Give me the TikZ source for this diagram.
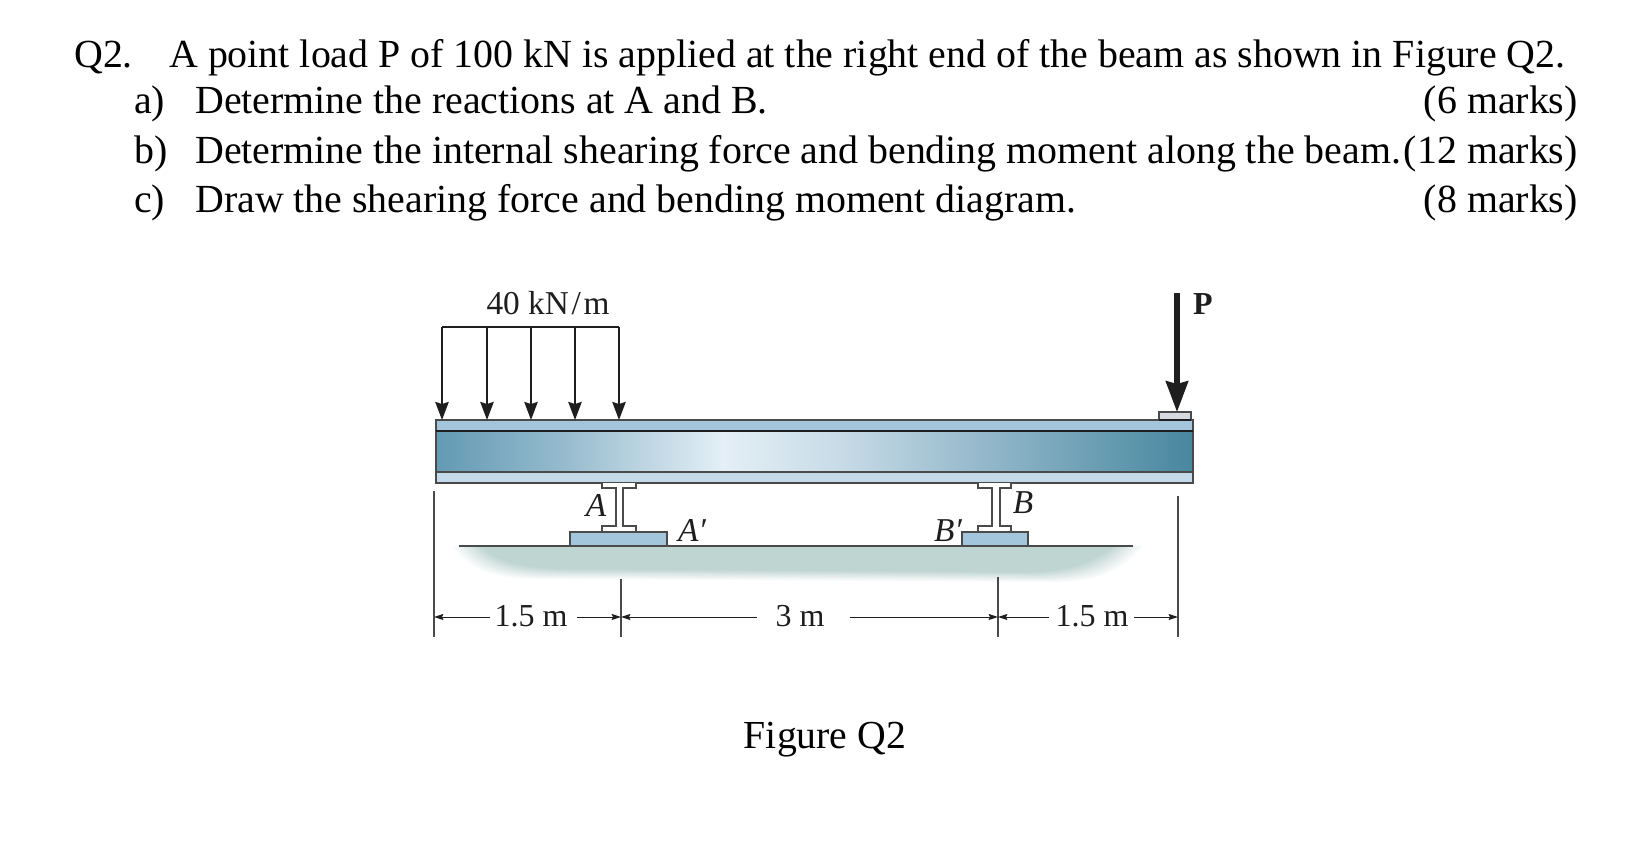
\documentclass[tikz,border=0pt]{standalone}
\usepackage{fontspec}
\setmainfont{Liberation Serif}
\usetikzlibrary{arrows.meta}
\definecolor{ink}{HTML}{1E1E1E}
\definecolor{edge}{HTML}{4A4A4A}
\definecolor{topplate}{HTML}{A3C6DC}
\definecolor{botplate}{HTML}{C4DAE9}
\definecolor{groundc}{HTML}{BFD5D2}
\definecolor{coreA}{HTML}{639AB4}
\definecolor{coreB}{HTML}{93B9CC}
\definecolor{coreC}{HTML}{E4EFF6}
\definecolor{coreD}{HTML}{C6DAE6}
\definecolor{coreE}{HTML}{8FB5C8}
\definecolor{coreF}{HTML}{47879F}
\pgfdeclarehorizontalshading{beamcore}{100bp}{
 color(0bp)=(coreA);
 color(25bp)=(coreA);
 color(33bp)=(coreB);
 color(44bp)=(coreC);
 color(52bp)=(coreD);
 color(62bp)=(coreE);
 color(75bp)=(coreF);
 color(100bp)=(coreF)}
\tikzset{
  x=0.75pt,y=-0.75pt,
  qtext/.style={anchor=base west,inner sep=0pt,font=\fontsize{29.9pt}{32pt}\selectfont,text=black},
  figtext/.style={inner sep=0pt,font=\fontsize{24pt}{26pt}\selectfont,text=ink},
  mainlab/.style={inner sep=0pt,anchor=base,font=\fontsize{29.8pt}{32pt}\selectfont,text=black},
  supportlab/.style={inner sep=0pt,anchor=base,font=\fontsize{25pt}{27pt}\itshape\selectfont,text=ink},
  loadarrow/.style={draw=ink,line width=1.5pt,-{Stealth[length=13.5pt,width=10pt,inset=1.5pt]}},
  pointarrow/.style={draw=ink,line width=4.2pt,-{Stealth[length=23pt,width=16.5pt,inset=2pt]}},
  dimarrow/.style={draw=ink,line width=0.7pt,-{Stealth[length=7pt,width=4.5pt,inset=1pt]}},
  extline/.style={draw=edge,line width=1.1pt},
  steelpart/.style={draw=edge,line width=1.2pt,fill=white},
  plate/.style={draw=edge,line width=1.1pt,fill=topplate},
}
\begin{document}
\begin{tikzpicture}
\useasboundingbox[fill=white] (0,0) rectangle (1644,864);
% question text
\node[qtext] (q1a) at (74,67) {Q2.};
\node[qtext] (q1b) at (169,67) {A point load P of 100 kN is applied at the right end of the beam as shown in Figure Q2.};
\node[qtext] (qa) at (134,113) {a)};
\node[qtext] (qat) at (195,113) {Determine the reactions at A and B.};
\node[qtext,anchor=base east] (qam) at (1578,113) {(6 marks)};
\node[qtext] (qb) at (134,163) {b)};
\node[qtext] (qbt) at (195,163) {Determine the internal shearing force and bending moment along the beam.};
\node[qtext,anchor=base east] (qbm) at (1578,163) {(12 marks)};
\node[qtext] (qc) at (134,212) {c)};
\node[qtext] (qct) at (195,212) {Draw the shearing force and bending moment diagram.};
\node[qtext,anchor=base east] (qcm) at (1578,212) {(8 marks)};
\node[mainlab] (figcap) at (825,748) {Figure Q2};

% ground: nested outlines give a soft edge
\foreach \i in {0,...,12}{
  \pgfmathsetmacro{\mixv}{\i*100/12}
  \pgfmathsetmacro{\ins}{\i*2.5}
  \pgfmathsetmacro{\low}{\i*0.9}
  \fill[groundc!\mixv!white]
    ({450+\ins},546) .. controls ({468+\ins},{572-\low}) and ({490+\ins},{580-\low}) .. ({545+\ins},{580-\low})
    -- ({1060-\ins},{583-\low}) .. controls ({1110-\ins},{582-\low}) and ({1130-\ins},{566-\low}) .. ({1145-\ins},546) -- cycle;
}
\draw[extline] (459,546) coordinate (gl) -- (1133,546) coordinate (gr);

% beam
\fill[topplate] (436,420) rectangle (1193,431);
\shade[shading=beamcore] (436,431) rectangle (1193,472);
\fill[botplate] (436,472) rectangle (1193,483);
\draw[edge,line width=1.1pt] (436,420) rectangle (1193,483);
\draw[edge,line width=1pt] (436,472) -- (1193,472);
\draw[ink,line width=2pt] (436,431) -- (1193,431);

% support A
\draw[steelpart] (602,483) -- (602,488) -- (616,488) -- (616,526) -- (602,526) -- (602,532)
  -- (636,532) -- (636,526) -- (623,526) -- (623,488) -- (636,488) -- (636,483);
\draw[plate] (570,546) -- (570,532) -- (667,532) -- (667,546) -- cycle;
% support B
\draw[steelpart] (978,483) -- (978,488) -- (992,488) -- (992,526) -- (978,526) -- (978,532)
  -- (1011,532) -- (1011,526) -- (1000,526) -- (1000,488) -- (1011,488) -- (1011,483);
\draw[plate] (962,546) -- (962,532) -- (1028,532) -- (1028,546) -- cycle;
\node[supportlab] (labA) at (596,516) {A};
\node[supportlab] (labAp) at (692,541) {A′};
\node[supportlab] (labB) at (1023,513) {B};
\node[supportlab] (labBp) at (948,541) {B′};

% distributed load
\node[figtext,anchor=base,font=\fontsize{25pt}{27pt}\selectfont] (w) at (548,314) {40 kN\kern2pt/\kern2pt m};
\foreach \n/\xx in {a/442,b/487,c/531,d/575,e/619}{
  \coordinate (t\n) at (\xx,327);
  \coordinate (h\n) at (\xx,420);
  \draw[loadarrow] (t\n) -- (h\n);
}
\draw[draw=ink,line width=1.5pt] (ta) -- (te);

% point load
\fill[botplate!60!gray!50] (1159,412) rectangle (1191,420);
\draw[edge,line width=1.1pt] (1159,420) -- (1159,412) -- (1191,412) -- (1191,420);
\draw[ink,line width=1.5pt] (1159,420) -- (1191,420);
\coordinate (ptop) at (1177,293);
\coordinate (ptip) at (1177,412);
\draw[pointarrow] (ptop) -- (ptip);
\node[figtext,anchor=base,font=\fontsize{24pt}{26pt}\bfseries\selectfont] (plab) at (1203,314) {P};

% dimensions
\draw[extline] (434,491) coordinate (e1a) -- (434,637) coordinate (e1b);
\draw[extline] (621,579) coordinate (e2a) -- (621,637) coordinate (e2b);
\draw[extline] (998,577) coordinate (e3a) -- (998,637) coordinate (e3b);
\draw[extline] (1178,496) coordinate (e4a) -- (1178,637) coordinate (e4b);
\coordinate (d1) at (434,617); \coordinate (d2) at (621,617);
\coordinate (d3) at (998,617); \coordinate (d4) at (1178,617);
\coordinate (s1) at (490,617); \coordinate (s2) at (577,617);
\coordinate (s3) at (757,617); \coordinate (s4) at (850,617);
\coordinate (s5) at (1049,617); \coordinate (s6) at (1134,617);
\draw[dimarrow] (s1) -- (d1);
\draw[dimarrow] (s2) -- (d2);
\draw[dimarrow] (s3) -- (d2);
\draw[dimarrow] (s4) -- (d3);
\draw[dimarrow] (s5) -- (d3);
\draw[dimarrow] (s6) -- (d4);
\node[figtext,anchor=base] (l1) at (531,626) {1.5 m};
\node[figtext,anchor=base] (l2) at (800,626) {3 m};
\node[figtext,anchor=base] (l3) at (1092,626) {1.5 m};
\end{tikzpicture}
\end{document}
